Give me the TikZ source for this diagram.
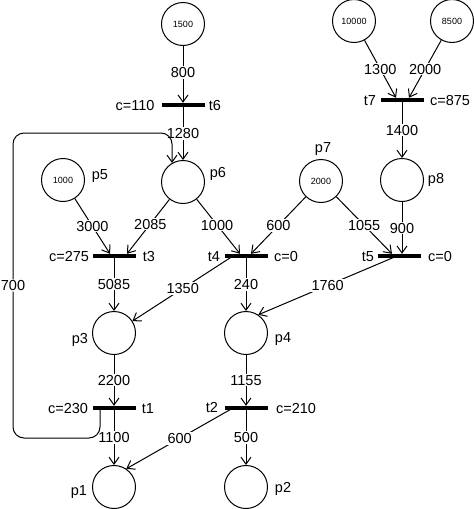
\documentclass[tikz,border=0pt]{standalone}
\usepackage{fontspec}
\setmainfont{Liberation Sans}
\usetikzlibrary{arrows.meta}
\newcommand\lblsz{\fontsize{14.5}{16}\selectfont}
\newcommand\toksz{\fontsize{9}{10}\selectfont}
\begin{document}
\begin{tikzpicture}[x=1pt,y=-1pt,
  pl/.style={circle,draw,line width=1pt,minimum size=43pt,inner sep=0pt,font=\toksz},
  trbar/.style={rectangle,fill=black,minimum width=43pt,minimum height=4pt,inner sep=0pt},
  arr/.style={line width=1pt,-{Straight Barb[length=7pt,width=10pt]}},
  elbl/.style={fill=white,inner sep=1pt,font=\lblsz,text height=10.4pt,text depth=0pt},
  nlbl/.style={inner sep=0pt,font=\lblsz,text height=10.4pt,text depth=0pt}]
\useasboundingbox (0,0) rectangle (474,509);
% places and transitions
\node[pl] (m1) at (183,24) {1500};
\node[trbar] (t6) at (183,105) {};
\node[pl] (p6) at (183,182) {};
\node[pl] (m2) at (354,21) {10000};
\node[pl] (m3) at (452,21) {8500};
\node[trbar] (t7) at (402,100) {};
\node[pl] (p8) at (402,180) {};
\node[pl] (p7) at (321,181) {2000};
\node[pl] (p5) at (63,180) {1000};
\node[trbar] (t3) at (114,256) {};
\node[trbar] (t4) at (246,256) {};
\node[trbar] (t5) at (399,256) {};
\node[pl] (p3) at (114,333) {};
\node[pl] (p4) at (246,333) {};
\node[trbar] (t1) at (114,408) {};
\node[trbar] (t2) at (246,408) {};
\node[pl] (p1) at (114,487) {};
\node[pl] (p2) at (246,487) {};
% place names
\node[nlbl] (lp5) at (100,174) {p5};
\node[nlbl] (lp6) at (218,172) {p6};
\node[nlbl] (lp7) at (323,147) {p7};
\node[nlbl] (lp8) at (436,178) {p8};
\node[nlbl] (lp3) at (80,338) {p3};
\node[nlbl] (lp4) at (283,337) {p4};
\node[nlbl] (lp1) at (79,490) {p1};
\node[nlbl] (lp2) at (283,487) {p2};
% transition names and costs
\node[nlbl] (c6) at (135,105) {c=110};
\node[nlbl] (n6) at (215,105) {t6};
\node[nlbl] (n7) at (370,100) {t7};
\node[nlbl] (c7) at (450,100) {c=875};
\node[nlbl] (c3) at (69,256) {c=275};
\node[nlbl] (n3) at (149,256) {t3};
\node[nlbl] (n4) at (214,256) {t4};
\node[nlbl] (c4) at (286,256) {c=0};
\node[nlbl] (n5) at (368,256) {t5};
\node[nlbl] (c5) at (440,256) {c=0};
\node[nlbl] (c1) at (68,408) {c=230};
\node[nlbl] (n1) at (148,408) {t1};
\node[nlbl] (n2) at (212,407) {t2};
\node[nlbl] (c2) at (296,408) {c=210};
% arcs
\draw[arr] (m1) -- (t6) node[elbl,pos=0.47]{800};
\draw[arr] (t6) -- (p6) node[elbl,pos=0.5]{1280};
\draw[arr] (m2) -- ([xshift=-6pt]t7.north) node[elbl,pos=0.5]{1300};
\draw[arr] (m3) -- ([xshift=7pt]t7.north) node[elbl,pos=0.5]{2000};
\draw[arr] (t7) -- (p8) node[elbl,pos=0.5]{1400};
\draw[arr] (p5) -- ([xshift=-4pt]t3.north) node[elbl,pos=0.5]{3000};
\draw[arr] (p6) -- ([xshift=13pt]t3.north) node[elbl,pos=0.45]{2085};
\draw[arr] (p6) -- ([xshift=-6pt]t4.north) node[elbl,pos=0.47]{1000};
\draw[arr] (p7) -- ([xshift=5pt]t4.north) node[elbl,pos=0.5]{600};
\draw[arr] (p7) -- ([xshift=-7pt]t5.north) node[elbl,pos=0.5]{1055};
\draw[arr] (p8) -- ([xshift=3pt]t5.north) node[elbl,pos=0.5]{900};
\draw[arr] (t3) -- (p3) node[elbl,pos=0.49]{5085};
\draw[arr] ([xshift=-13pt]t4.center) -- (p3) node[elbl,pos=0.5]{1350};
\draw[arr] (t4) -- (p4) node[elbl,pos=0.5]{240};
\draw[arr] ([xshift=-2pt]t5.center) -- (p4.56) node[elbl,pos=0.5]{1760};
\draw[arr] (p3) -- (t1) node[elbl,pos=0.49]{2200};
\draw[arr] (p4) -- (t2) node[elbl,pos=0.49]{1155};
\draw[arr] (t1) -- (p1) node[elbl,pos=0.5]{1100};
\draw[arr] ([xshift=-13pt]t2.center) -- (p1.56) node[elbl,pos=0.5]{600};
\draw[arr] (t2) -- (p2) node[elbl,pos=0.5]{500};
% feedback loop t1 -> p6
\coordinate (lb) at (13,438);
\coordinate (lt) at (13,133);
\draw[arr,rounded corners=11pt] ([xshift=-14pt]t1.center) |- (lb) -- (lt) node[elbl,midway]{700} -| (p6.120);
\end{tikzpicture}
\end{document}
